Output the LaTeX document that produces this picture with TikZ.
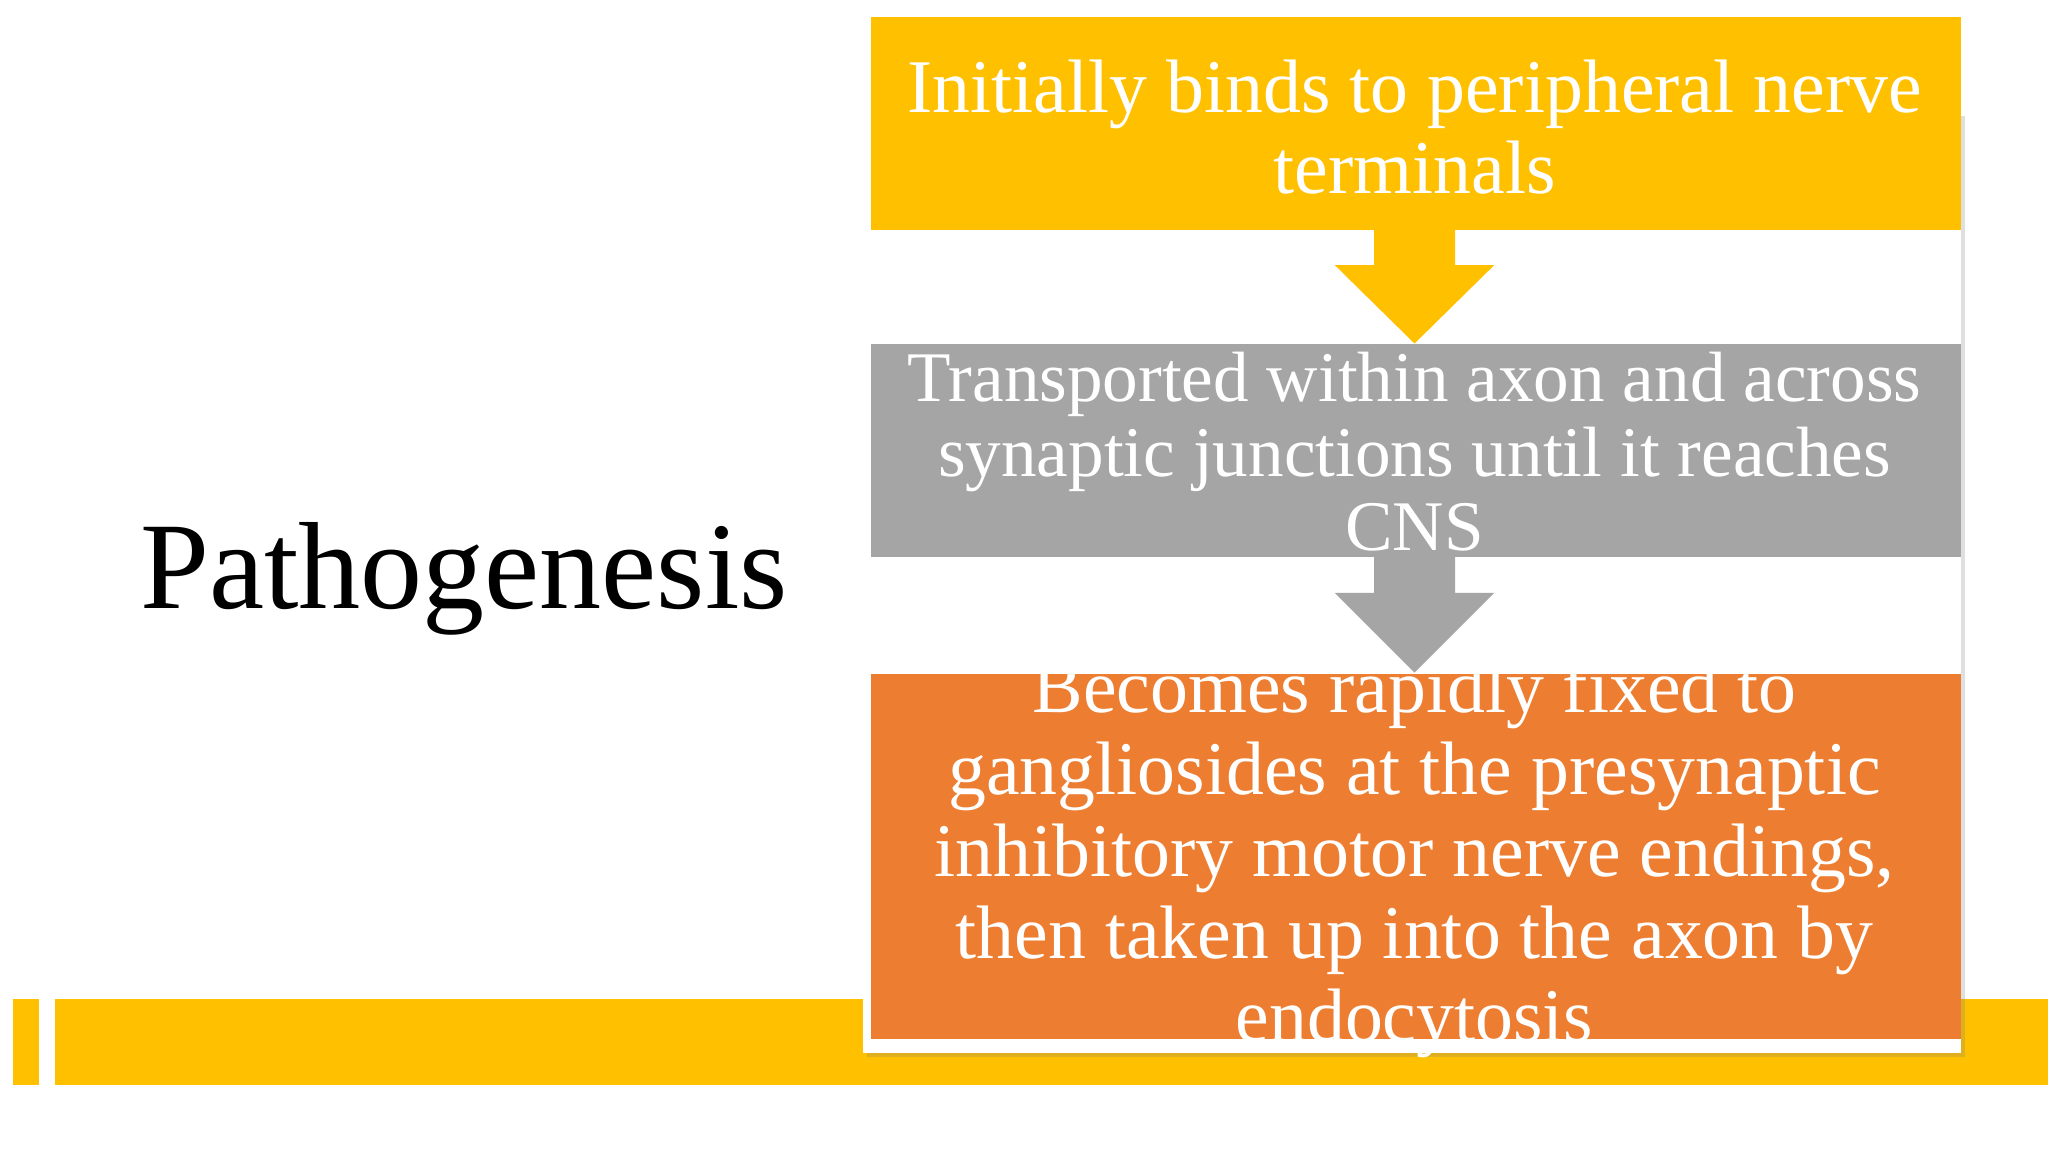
\documentclass[tikz,border=0pt]{standalone}
\usepackage{fontspec}
\setmainfont{Liberation Serif}
\usetikzlibrary{shadows}
\definecolor{gold}{HTML}{FFC000}
\definecolor{grayb}{HTML}{A5A5A5}
\definecolor{orng}{HTML}{ED7D31}
\tikzset{
  box/.style={draw=none,minimum width=8.34cm,anchor=north west,inner sep=0},
  btxt/.style={text=white,align=center},
}
\begin{document}
\begin{tikzpicture}[x=0.01cm,y=-0.01cm]
\fill[white] (0,0) rectangle (1568,882);
\useasboundingbox (0,0) rectangle (1568,882);
\fill[gold] (10,765) rectangle (30,831);
\fill[gold] (42,765) rectangle (1568,831);
\node[box,fill=white,minimum width=8.4cm,minimum height=7.2cm,drop shadow={opacity=0.25,shadow xshift=0.03cm,shadow yshift=-0.03cm}] (panel) at (660,85) {};
\node[box,fill=gold,minimum height=1.63cm] (b1) at (666,12) {};
\node[box,fill=grayb,minimum height=1.63cm] (b2) at (666,263) {};
\node[box,fill=orng,minimum height=2.80cm] (b3) at (666,515) {};
\fill[gold] (1052,175) -- (1114,175) -- (1114,203) -- (1144,203) -- (1083,263) -- (1022,203) -- (1052,203) -- cycle;
\fill[grayb] (1052,426) -- (1114,426) -- (1114,454) -- (1144,454) -- (1083,515) -- (1022,454) -- (1052,454) -- cycle;
\node[btxt,font=\fontsize{16.5}{17.6}\selectfont] (t1) at (1083,97) {Initially binds to peripheral nerve\\terminals};
\node[btxt,font=\fontsize{15.5}{16.2}\selectfont] (t2) at (1083,346) {Transported within axon and across\\synaptic junctions until it reaches\\CNS};
\node[btxt,font=\fontsize{16.5}{17.9}\selectfont] (t3) at (1083,657) {Becomes rapidly fixed to\\gangliosides at the presynaptic\\inhibitory motor nerve endings,\\then taken up into the axon by\\endocytosis};
\node[font=\fontsize{27}{30}\selectfont,anchor=west] (title) at (95,443) {Pathogenesis};
\end{tikzpicture}
\end{document}
